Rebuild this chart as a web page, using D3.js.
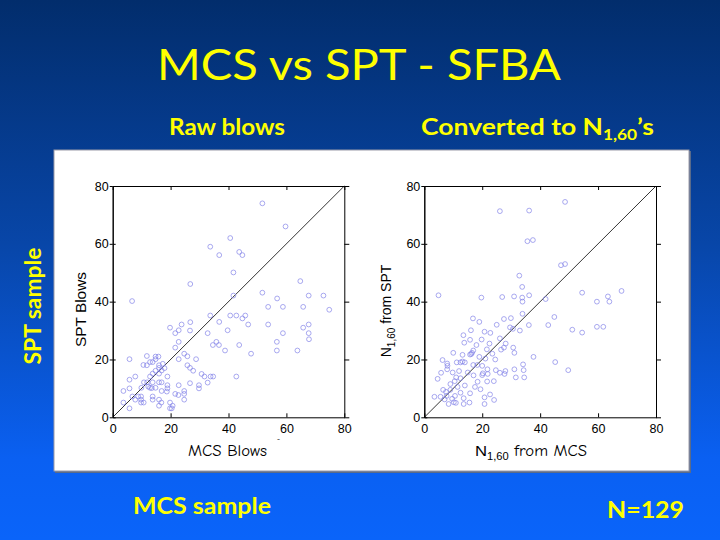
<!DOCTYPE html>
<html><head><meta charset="utf-8">
<script src="https://cdn.jsdelivr.net/npm/d3@7/dist/d3.min.js"></script>
<style>html,body{margin:0;padding:0;overflow:hidden;background:#0a4cc0}</style>
</head><body>
<svg id="c" width="720" height="540"></svg>
<script>
// ---- data ----
const tickValues = [0, 20, 40, 60, 80];

// Left plot: Raw blows (x = MCS Blows, y = SPT Blows)
const rawMcs = [51.7,59.7,40.6,33.7,43.7,44.8,36.8,41.7,26.8,64.8,6.7,51.7,56.8,67.7,72.8,41.7,53.7,58.8,65.8,74.8,33.7,40.6,42.7,45.8,44.8,
  26.8,23.8,19.8,21.6,22.8,26.7,32.8,39.7,46.8,53.7,36.8,65.8,67.7,58.8,67.7,67.8,56.7,56.7,63.8,47.8,43.7,22.8,35.8,34.6,36.7,38.8,21.6,24.7,25.8,22.8,28.8,25.8,26.7,27.8,30.7,31.7,33.8,34.7,42.7,32.8,29.8,29.8,22.8,24.7,24.7,21.6,24.7,19.8,20.7,19.8,
  18.9,18.9,16.9,16.0,16.9,18.9,16.9,17.9,16.0,15.8,14.8,14.8,12.9,13.8,11.8,16.0,14.8,16.0,13.8,12.9,11.9,13.8,12.9,12.3,13.5,10.8,9.9,7.8,5.8,5.8,5.8,3.7,3.7,5.8,6.8,7.8,8.8,9.8,9.8,9.8,10.7,13.8,13.8,16.0,16.8,16.0,14.8,11.8,17.3,22.7,18.7,20.4,26.7,10.6];
const rawSpt = [74.0,66.0,62.0,59.0,57.2,56.1,56.1,50.1,46.1,47.1,40.2,43.1,41.1,42.1,42.1,42.1,38.2,38.2,38.2,37.2,35.2,35.2,35.2,35.2,34.2,
  32.9,32.1,31.0,29.1,30.1,30.0,29.1,30.1,32.1,32.1,33.0,31.0,32.1,29.1,29.1,27.0,26.1,23.1,23.1,22.0,25.0,26.1,26.1,25.0,25.0,23.1,24.1,22.0,21.1,20.1,20.1,18.0,17.1,16.1,15.0,14.1,14.1,14.1,14.1,12.0,11.1,10.0,11.1,9.1,8.1,8.1,6.1,5.1,4.0,3.1,
  11.1,10.0,12.1,12.1,9.1,14.1,16.2,17.0,18.0,21.0,21.0,20.1,19.1,19.1,18.0,17.1,16.1,15.1,15.1,14.1,12.1,12.1,10.2,10.6,10.1,12.1,10.2,14.1,13.0,20.1,10.0,9.1,5.1,3.1,7.2,6.1,7.2,7.2,6.1,5.1,5.1,7.2,6.1,6.1,5.1,4.0,10.2,21.2,18.5,7.7,8.9,3.1,11.8,18.1];

// Right plot: Converted to N1,60 (x = from MCS, y = from SPT)
const n160Mcs = [48.6,26.1,36.2,35.6,37.5,47.2,48.6,32.8,33.8,4.9,19.7,26.9,31.0,33.8,36.2,33.9,41.9,54.5,59.6,63.4,63.9,68.1,33.9,44.9,16.8,27.5,29.9,
  42.8,36.1,30.6,29.6,51.1,54.5,59.6,61.8,13.5,15.8,13.8,16.1,20.8,22.8,19.8,26.1,28.1,27.5,30.7,31.1,26.5,21.6,21.1,16.5,15.8,10.0,6.3,7.9,11.2,12.5,13.2,14.0,18.3,19.0,37.7,45.2,49.7,34.1,34.3,34.5,31.6,31.1,24.7,26.1,27.7,21.8,21.9,20.0,21.7,18.4,19.4,22.7,20.8,24.1,20.8,15.8,13.6,13.6,15.6,10.6,9.6,10.9,10.2,8.4,7.0,7.7,5.6,3.5,5.8,4.6,7.9,
  16.2,16.9,13.2,9.8,8.0,16.9,20.0,20.2,12.0,12.5,10.5,14.0,11.5,9.0,7.5,17.0,24.0,28.0,23.5,24.5,11.0,15.0,18.0,22.5,33.0,25.0,19.0,9.0,6.5,17.5,12.5];
const n160Spt = [74.5,71.3,71.5,60.9,61.3,52.6,53.0,49.0,45.1,42.2,41.4,41.6,41.8,41.4,42.2,40.0,40.9,43.1,40.0,41.8,40.0,43.7,35.8,34.7,34.2,34.0,34.3,
  31.9,31.9,30.6,31.1,30.3,29.3,31.3,31.3,28.4,26.8,25.8,30.1,29.6,29.2,26.9,27.3,25.5,24.1,24.1,22.3,23.4,23.5,20.3,22.3,21.7,22.3,19.8,18.6,19.0,19.0,19.3,19.0,18.1,20.9,20.9,19.1,16.3,18.3,16.3,13.8,13.8,16.6,16.3,15.4,15.0,16.6,15.0,14.6,12.4,12.3,9.7,7.9,6.9,6.0,4.6,8.3,6.6,4.6,5.1,7.4,6.4,5.0,5.2,4.6,6.2,7.4,7.1,7.1,15.4,13.3,16.6,
  21.9,23.1,21.6,15.5,17.8,18.1,17.8,15.2,16.0,13.5,12.5,11.0,10.5,9.5,8.8,14.5,12.5,16.0,22.0,20.0,13.8,15.5,25.0,25.5,30.0,32.0,33.0,11.5,9.5,10.5,8.5];

// ---- drawing ----
const svg = d3.select("#c");
const defs = svg.append("defs");
const grad = defs.append("linearGradient").attr("id","bg").attr("x1",0).attr("y1",0).attr("x2",0).attr("y2",1);
grad.append("stop").attr("offset","0").attr("stop-color","#022d6c");
grad.append("stop").attr("offset","0.45").attr("stop-color","#0846a8");
grad.append("stop").attr("offset","0.85").attr("stop-color","#0a60f2");
grad.append("stop").attr("offset","1").attr("stop-color","#0a64fa");
svg.append("rect").attr("width",720).attr("height",540).attr("fill","url(#bg)");

const comic = "'Comic Sans MS','Comic Neue','Lato','DejaVu Sans',sans-serif";
const cap = "'Lato','Open Sans','DejaVu Sans',sans-serif";
const helv = "'Liberation Sans',Arial,Helvetica,sans-serif";
const yellow = "#ffff00";

// title & captions
svg.append("text").attr("x",359).attr("y",80).attr("text-anchor","middle")
  .attr("font-family",cap).attr("font-size",43).attr("fill",yellow)
  .attr("textLength",404).attr("lengthAdjust","spacingAndGlyphs").text("MCS vs SPT - SFBA");
function caption(txt, x, y, w, rot) {
  const t = svg.append("text").attr("text-anchor","middle")
    .attr("font-family",cap).attr("font-weight","bold").attr("font-size",23).attr("fill",yellow)
    .attr("textLength",w).attr("lengthAdjust","spacingAndGlyphs").text(txt);
  if (rot) t.attr("transform",`translate(${x},${y}) rotate(-90)`);
  else t.attr("x",x).attr("y",y);
  return t;
}
caption("Raw blows", 227, 135, 116);
const conv = svg.append("text").attr("x",421).attr("y",135)
  .attr("font-family",cap).attr("font-weight","bold").attr("font-size",23).attr("fill",yellow)
  .attr("textLength",233).attr("lengthAdjust","spacingAndGlyphs");
conv.append("tspan").text("Converted to N");
conv.append("tspan").attr("font-size",15).attr("dy",5).text("1,60");
conv.append("tspan").attr("dy",-5).text("\u2019s");
caption("SPT sample", 41, 306, 117, true);
caption("MCS sample", 202, 514, 138);
caption("N=129", 645.5, 518, 77);

// white panel
svg.append("rect").attr("x",55).attr("y",151).attr("width",636).attr("height",322).attr("fill","#5a6b8a");
svg.append("rect").attr("x",54).attr("y",150).attr("width",635).attr("height",321)
  .attr("fill","#ffffff").attr("stroke","#9a9aa8").attr("stroke-width",1);

function drawPlot(xs, ys, x0, x1, y0, y1) {
  const x = d3.scaleLinear().domain([0,80]).range([x0,x1]);
  const y = d3.scaleLinear().domain([0,80]).range([y1,y0]);
  const g = svg.append("g");
  const fmt = d3.format("d");
  const styleAxis = sel => {
    sel.selectAll("path.domain").attr("stroke","#000").attr("stroke-width",1);
    sel.selectAll(".tick line").attr("stroke","#000").attr("stroke-width",1);
    sel.selectAll("text").attr("font-family",helv).attr("font-size",12.5).attr("fill","#000");
  };
  g.append("g").attr("transform",`translate(0,${y1})`)
    .call(d3.axisBottom(x).tickValues(tickValues).tickFormat(fmt).tickSizeInner(-4).tickSizeOuter(0).tickPadding(7))
    .call(styleAxis);
  g.append("g").attr("transform",`translate(0,${y0})`)
    .call(d3.axisTop(x).tickValues(tickValues).tickFormat("").tickSizeInner(-4).tickSizeOuter(0))
    .call(styleAxis);
  g.append("g").attr("transform",`translate(${x0},0)`)
    .call(d3.axisLeft(y).tickValues(tickValues).tickFormat(fmt).tickSizeInner(3).tickSizeOuter(0).tickPadding(1))
    .call(styleAxis);
  g.append("g").attr("transform",`translate(${x0},0)`)
    .call(d3.axisRight(y).tickValues(tickValues).tickFormat("").tickSizeInner(3).tickSizeOuter(0))
    .call(styleAxis);
  g.append("g").attr("transform",`translate(${x1},0)`)
    .call(d3.axisLeft(y).tickValues(tickValues).tickFormat("").tickSizeInner(-5).tickSizeOuter(0))
    .call(styleAxis);
  // 1:1 line
  g.append("line").attr("x1",x(0)).attr("y1",y(0)).attr("x2",x(80)).attr("y2",y(80))
    .attr("stroke","#000").attr("stroke-width",0.8);
  g.append("g").selectAll("circle").data(d3.zip(xs, ys)).join("circle")
    .attr("cx",d => x(d[0])).attr("cy",d => y(d[1])).attr("r",2.4)
    .attr("fill","none").attr("stroke","#8484e8").attr("stroke-width",0.7);
}

drawPlot(rawMcs, rawSpt, 112.7, 344.3, 186, 417.3);
drawPlot(n160Mcs, n160Spt, 424.3, 656, 186, 417.3);

// axis titles
svg.append("text").attr("transform","translate(86,309.5) rotate(-90)").attr("text-anchor","middle")
  .attr("font-family",helv).attr("font-size",14).attr("fill","#000")
  .attr("textLength",75).attr("lengthAdjust","spacingAndGlyphs").text("SPT Blows");
svg.append("text").attr("x",227.5).attr("y",456).attr("text-anchor","middle")
  .attr("font-family",comic).attr("font-size",15).attr("fill","#000")
  .attr("textLength",79).attr("lengthAdjust","spacingAndGlyphs").text("MCS Blows");
svg.append("text").attr("x",277).attr("y",442).attr("font-family",helv).attr("font-size",9).attr("fill","#444").text("-");
const xl = svg.append("text").attr("x",475).attr("y",456)
  .attr("font-family",comic).attr("font-size",15).attr("fill","#000")
  .attr("textLength",112).attr("lengthAdjust","spacingAndGlyphs");
xl.append("tspan").attr("font-family",helv).text("N");
xl.append("tspan").attr("font-family",helv).attr("font-size",10).attr("dy",4).text("1,60");
xl.append("tspan").attr("dy",-4).text(" from MCS");
const yl = svg.append("text").attr("transform","translate(391,311) rotate(-90)").attr("text-anchor","middle")
  .attr("font-family",helv).attr("font-size",14).attr("fill","#000");
yl.append("tspan").text("N");
yl.append("tspan").attr("font-size",10).attr("dy",4).text("1,60");
yl.append("tspan").attr("dy",-4).text(" from SPT");
</script>
</body></html>
